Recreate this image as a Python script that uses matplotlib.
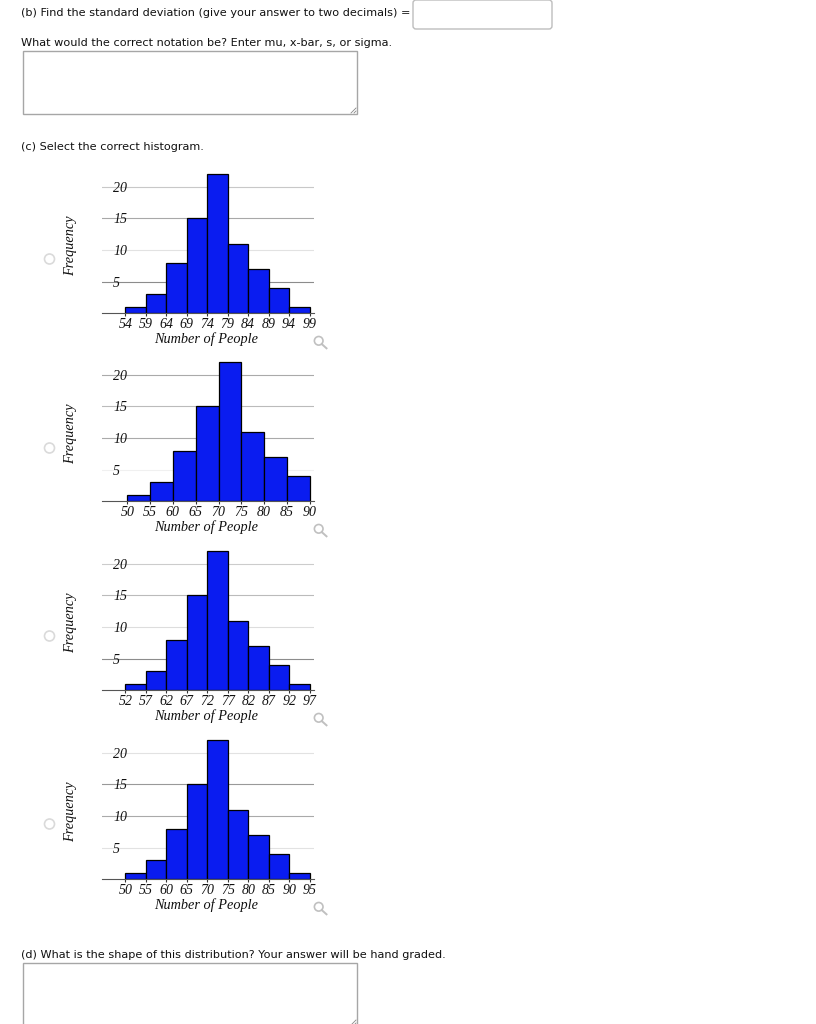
import matplotlib
matplotlib.use("Agg")
import matplotlib.pyplot as plt
from matplotlib.patches import Rectangle, FancyBboxPatch, Circle

W, H = 816, 1024

# values
freq_full = [1, 3, 8, 15, 22, 11, 7, 4, 1]
freq_short = [1, 3, 8, 15, 22, 11, 7, 4]
edges_a = [54, 59, 64, 69, 74, 79, 84, 89, 94, 99]
edges_b = [50, 55, 60, 65, 70, 75, 80, 85, 90]
edges_c = [52, 57, 62, 67, 72, 77, 82, 87, 92, 97]
edges_d = [50, 55, 60, 65, 70, 75, 80, 85, 90, 95]
y_ticks = [5, 10, 15, 20]

# edges, freqs, baseline px, first edge px, last edge px, radio y px, grid shades (5..20)
panels = [
    (edges_a, freq_full, 313.3, 125.3, 309.5, 259, ["#8c8c8c", "#e2e2e2", "#a8a8a8", "#c8c8c8"]),
    (edges_b, freq_short, 501.3, 127.3, 309.7, 448, ["#f0f0f0", "#aaaaaa", "#bbbbbb", "#aaaaaa"]),
    (edges_c, freq_full, 690.3, 125.3, 309.7, 636, ["#8c8c8c", "#dddddd", "#bbbbbb", "#cccccc"]),
    (edges_d, freq_full, 879.3, 125.3, 309.7, 824, ["#e2e2e2", "#aaaaaa", "#999999", "#e2e2e2"]),
]

BODY = "DejaVu Sans"
SERIF = "Liberation Serif"
GRID_X0, GRID_X1 = 102, 314
UNIT = 6.33  # px per frequency

fig = plt.figure(figsize=(W / 100, H / 100), dpi=100, facecolor="white")

page = fig.add_axes([0, 0, 1, 1])
page.set_xlim(0, W)
page.set_ylim(H, 0)
page.axis("off")


def body_text(x, y, s):
    page.text(x, y, s, family=BODY, fontsize=8.1, color="#111111", va="center", ha="left")


def textarea(x0, y0, x1, y1):
    page.add_patch(Rectangle((x0, y0), x1 - x0, y1 - y0, fc="white", ec="#a6a6a6", lw=1))
    # resize grip
    page.plot([x1 - 6, x1 - 1], [y1 - 1, y1 - 6], color="#888888", lw=0.6)
    page.plot([x1 - 3, x1 - 1], [y1 - 1, y1 - 3], color="#888888", lw=0.6)


body_text(21, 13.5, "(b) Find the standard deviation (give your answer to two decimals) =")
page.add_patch(FancyBboxPatch((416, 3), 133, 23, boxstyle="round,pad=3,rounding_size=3",
                              fc="white", ec="#bdbdbd", lw=1))
body_text(21, 42.5, "What would the correct notation be? Enter mu, x-bar, s, or sigma.")
textarea(23, 51, 357, 114)
body_text(21, 147, "(c) Select the correct histogram.")
body_text(21, 954.5, "(d) What is the shape of this distribution? Your answer will be hand graded.")
textarea(23, 963, 357, 1026)


def draw_hist(edges, freqs, base_px, x0_px, x1_px, radio_y, shades):
    top_px = base_px - 23 * UNIT
    ax = fig.add_axes([GRID_X0 / W, 1 - base_px / H, (GRID_X1 - GRID_X0) / W, (base_px - top_px) / H])
    px_per = (x1_px - x0_px) / (edges[-1] - edges[0])
    ax.set_xlim(edges[0] - (x0_px - GRID_X0) / px_per, edges[-1] + (GRID_X1 - x1_px) / px_per)
    ax.set_ylim(0, 23)
    ax.patch.set_alpha(0)
    for side in ["top", "left", "right"]:
        ax.spines[side].set_visible(False)
    ax.spines["bottom"].set_color("#555555")
    ax.spines["bottom"].set_linewidth(0.8)

    # grid lines land on different subpixels in the original, so each has its own shade
    for t, shade in zip(y_ticks, shades):
        ax.axhline(t, color=shade, lw=0.8, zorder=1)
    ax.bar(edges[:-1], freqs, width=edges[1] - edges[0], align="edge",
           color="#0a1cf0", edgecolor="black", linewidth=0.9, zorder=2)

    ax.set_yticks(y_ticks)
    ax.tick_params(axis="y", length=0, pad=-8)
    ax.set_xticks(edges)
    ax.tick_params(axis="x", length=2.5, width=0.8, color="#333333", pad=1)
    for lab in ax.get_xticklabels() + ax.get_yticklabels():
        lab.set_family(SERIF)
        lab.set_style("italic")
        lab.set_fontsize(10)
        lab.set_color("#111111")
    for lab in ax.get_yticklabels():
        lab.set_ha("left")

    page.text(206.5, base_px + 25.5, "Number of People", family=SERIF, style="italic",
              fontsize=10.3, ha="center", va="center", color="#111111")
    page.text(71, base_px - 68, "Frequency", family=SERIF, style="italic", fontsize=10.3,
              rotation=90, ha="center", va="center", color="#111111")

    # radio button and magnifier
    page.add_patch(Circle((49.5, radio_y), 5, fc="white", ec="#dadada", lw=1.2))
    page.add_patch(Circle((318.7, base_px + 27.5), 4.3, fc="none", ec="#c0c0c0", lw=1.2))
    page.plot([321.8, 326.5], [base_px + 30.8, base_px + 35], color="#c0c0c0", lw=1.4)


for p in panels:
    draw_hist(*p)

fig.savefig("out.png", dpi=100, facecolor="white")
plt.close(fig)
